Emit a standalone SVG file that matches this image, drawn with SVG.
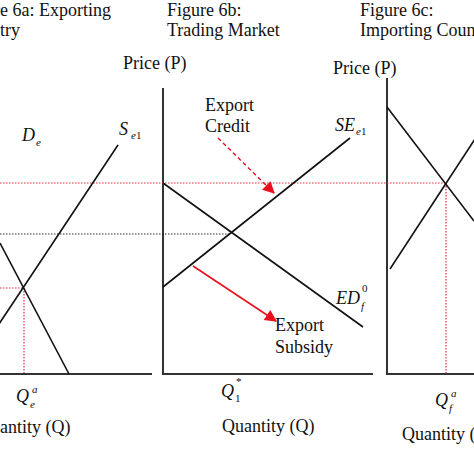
<svg xmlns="http://www.w3.org/2000/svg" width="474" height="474" viewBox="0 0 474 474">
<style>
text{font-family:"Liberation Serif","Times New Roman",serif;fill:#111}
.t{font-size:18px}
.i{font-style:italic}
.s{font-size:11px}
.ax{stroke:#333;stroke-width:2;fill:none}
.cv{stroke:#111;stroke-width:1.6;fill:none}
.rd{stroke:#e23040;stroke-width:1.2;stroke-dasharray:1.5,1.5;fill:none}
.bd{stroke:#333;stroke-width:1.2;stroke-dasharray:1.5,1.5;fill:none}
</style>
<defs>
<marker id="ah2" viewBox="0 0 10 10" refX="9" refY="5" markerWidth="14" markerHeight="12" orient="auto" markerUnits="userSpaceOnUse">
<path d="M0,0 L10,5 L0,10 z" fill="#e8101c"/>
</marker>
</defs>
<rect width="474" height="474" fill="#fff"/>

<g id="titles">
<text class="t" x="-39" y="16">Figure 6a: Exporting</text>
<text class="t" x="-39" y="36">Country</text>
<text class="t" x="167" y="16">Figure 6b:</text>
<text class="t" x="167" y="36">Trading Market</text>
<text class="t" x="360" y="16">Figure 6c:</text>
<text class="t" x="360" y="36">Importing Country</text>
</g>

<g id="axes">
<line class="ax" x1="0" y1="374" x2="152" y2="374"/>
<line class="ax" x1="163" y1="88" x2="163" y2="374"/>
<line class="ax" x1="162" y1="374" x2="373" y2="374"/>
<line class="ax" x1="387" y1="78" x2="387" y2="374"/>
<line class="ax" x1="386" y1="374" x2="474" y2="374"/>
<text class="t" x="123" y="69">Price (P)</text>
<text class="t" x="333" y="74">Price (P)</text>
<text class="t" x="-22" y="433">Quantity (Q)</text>
<text class="t" x="222" y="432">Quantity (Q)</text>
<text class="t" x="402" y="440">Quantity (Q)</text>
</g>

<g id="guides">
<line class="rd" x1="0" y1="183" x2="446" y2="183"/>
<line class="rd" x1="446" y1="183" x2="446" y2="373"/>
<line class="bd" x1="0" y1="234" x2="230" y2="234"/>
<line class="rd" x1="0" y1="288" x2="24" y2="288"/>
<line class="rd" x1="24" y1="288" x2="24" y2="373"/>
</g>

<g id="curves">
<line id="Se1" class="cv" x1="118" y1="145" x2="-1" y2="324"/>
<line id="De" class="cv" x1="0" y1="243" x2="69" y2="374"/>
<line id="SEe1" class="cv" x1="163" y1="287" x2="350" y2="138"/>
<line id="EDf0" class="cv" x1="163" y1="183" x2="363" y2="327"/>
<line id="Dc" class="cv" x1="387" y1="107" x2="474" y2="221"/>
<line id="Sc" class="cv" x1="390" y1="269" x2="475" y2="139"/>
</g>

<g id="connectors">
<line x1="218" y1="138" x2="274" y2="193" stroke="#e8101c" stroke-width="1.4" stroke-dasharray="4,3" marker-end="url(#ah2)"/>
<line x1="193" y1="266" x2="276" y2="321" stroke="#e8101c" stroke-width="1.6" marker-end="url(#ah2)"/>
</g>

<g id="labels">
<text class="t i" x="119" y="135">S</text><text class="s" x="131" y="139"><tspan font-style="italic">e</tspan>1</text>
<text class="t i" x="22" y="141">D</text><text class="s i" x="36" y="146">e</text>
<text class="t i" x="335" y="131">SE</text><text class="s" x="356" y="135"><tspan font-style="italic">e</tspan>1</text>
<text class="t i" x="336" y="304">ED</text><text class="s" x="362" y="292">0</text><text class="s i" x="361" y="310">f</text>
<text class="t" x="205" y="111">Export</text>
<text class="t" x="205" y="132">Credit</text>
<text class="t" x="275" y="331">Export</text>
<text class="t" x="275" y="353">Subsidy</text>
<text class="t i" x="16" y="402">Q</text><text class="s i" x="32" y="393">a</text><text class="s i" x="30" y="408">e</text>
<text class="t i" x="221" y="397">Q</text><text class="s" x="236" y="385">*</text><text class="s" x="235" y="402">1</text>
<text class="t i" x="435" y="406">Q</text><text class="s i" x="451" y="397">a</text><text class="s i" x="449" y="412">f</text>
</g>
</svg>
